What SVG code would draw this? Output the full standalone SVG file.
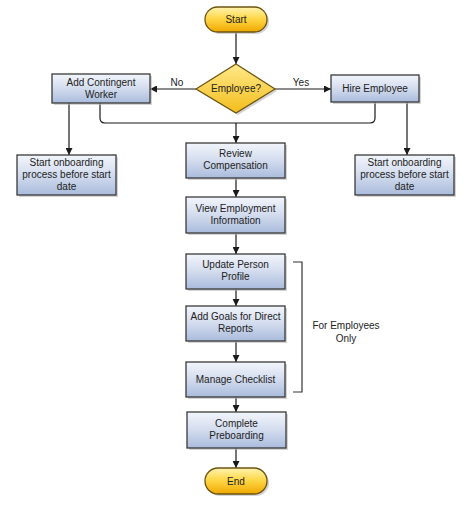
<svg xmlns="http://www.w3.org/2000/svg" width="474" height="513" viewBox="0 0 474 513">
<defs>
<linearGradient id="gBox" x1="0" y1="0" x2="0" y2="1">
<stop offset="0" stop-color="#f2f5fb"/>
<stop offset="0.5" stop-color="#d3dcee"/>
<stop offset="1" stop-color="#a9bbdc"/>
</linearGradient>
<linearGradient id="gYel" x1="0" y1="0" x2="0" y2="1">
<stop offset="0" stop-color="#fff3b0"/>
<stop offset="0.45" stop-color="#ffd84a"/>
<stop offset="1" stop-color="#f0a800"/>
</linearGradient>
<linearGradient id="gDia" x1="0" y1="0" x2="0" y2="1">
<stop offset="0" stop-color="#ffe98a"/>
<stop offset="1" stop-color="#f3bd1c"/>
</linearGradient>
<marker id="ah" viewBox="0 0 10 10" refX="10" refY="5" markerWidth="7" markerHeight="7" markerUnits="userSpaceOnUse" orient="auto">
<path d="M0,0 L10,5 L0,10 z" fill="#1a1a1a"/>
</marker>
</defs>
<style>
.box{fill:url(#gBox);stroke:#3a3a3a;stroke-width:1.3}
.term{fill:url(#gYel);stroke:#6b5410;stroke-width:1.3}
.sh{fill:#b8b8b8;opacity:0.6}
.t{font-family:"Liberation Sans",Arial,sans-serif;font-size:10px;fill:#222;text-anchor:middle}
.c{fill:none;stroke:#1a1a1a;stroke-width:1.2}
</style>
<rect width="474" height="513" fill="#ffffff"/>
<g id="connectors">
<line class="c" x1="236" y1="32" x2="236" y2="64" marker-end="url(#ah)"/>
<line class="c" x1="196" y1="89" x2="150" y2="89" marker-end="url(#ah)"/>
<line class="c" x1="275" y1="89" x2="331" y2="89" marker-end="url(#ah)"/>
<line class="c" x1="69" y1="103" x2="69" y2="155" marker-end="url(#ah)"/>
<line class="c" x1="407" y1="102" x2="407" y2="155" marker-end="url(#ah)"/>
<path class="c" d="M100,103 V118 Q100,123 105,123 H370 Q375,123 375,118 V102"/>
<line class="c" x1="236" y1="123" x2="236" y2="143" marker-end="url(#ah)"/>
<line class="c" x1="236" y1="178" x2="236" y2="197" marker-end="url(#ah)"/>
<line class="c" x1="236" y1="233" x2="236" y2="254" marker-end="url(#ah)"/>
<line class="c" x1="236" y1="289" x2="236" y2="306" marker-end="url(#ah)"/>
<line class="c" x1="236" y1="341" x2="236" y2="362" marker-end="url(#ah)"/>
<line class="c" x1="236" y1="397" x2="236" y2="412" marker-end="url(#ah)"/>
<line class="c" x1="236" y1="448" x2="236" y2="468" marker-end="url(#ah)"/>
<text class="t" x="177" y="86">No</text>
<text class="t" x="301" y="86">Yes</text>
</g>
<g id="start">
<rect class="sh" x="207" y="9" width="62" height="25" rx="12.5"/>
<rect class="term" x="205" y="7" width="62" height="25" rx="12.5"/>
<text class="t" x="236" y="23">Start</text>
</g>
<g id="employee">
<path class="sh" d="M238,66 L277,91 L238,115 L198,91 z"/>
<path d="M236,64 L275,89 L236,113 L196,89 z" fill="url(#gDia)" stroke="#6b5410" stroke-width="1.2"/>
<text class="t" x="236" y="92">Employee?</text>
</g>
<g id="addContingent">
<rect class="sh" x="54" y="76" width="98" height="29"/>
<rect class="box" x="52" y="74" width="98" height="29"/>
<text class="t" x="101" y="86">Add Contingent</text>
<text class="t" x="101" y="98">Worker</text>
</g>
<g id="hireEmployee">
<rect class="sh" x="333" y="77" width="88" height="27"/>
<rect class="box" x="331" y="75" width="88" height="27"/>
<text class="t" x="375" y="92">Hire Employee</text>
</g>
<g id="onboardLeft">
<rect class="sh" x="19" y="157" width="99" height="40"/>
<rect class="box" x="17" y="155" width="99" height="40"/>
<text class="t" x="66.5" y="166">Start onboarding</text>
<text class="t" x="66.5" y="178">process before start</text>
<text class="t" x="66.5" y="190">date</text>
</g>
<g id="onboardRight">
<rect class="sh" x="357" y="157" width="99" height="40"/>
<rect class="box" x="355" y="155" width="99" height="40"/>
<text class="t" x="404.5" y="166">Start onboarding</text>
<text class="t" x="404.5" y="178">process before start</text>
<text class="t" x="404.5" y="190">date</text>
</g>
<g id="review">
<rect class="sh" x="188" y="145" width="99" height="35"/>
<rect class="box" x="186" y="143" width="99" height="35"/>
<text class="t" x="235.5" y="157">Review</text>
<text class="t" x="235.5" y="169">Compensation</text>
</g>
<g id="viewEmployment">
<rect class="sh" x="188" y="199" width="99" height="36"/>
<rect class="box" x="186" y="197" width="99" height="36"/>
<text class="t" x="235.5" y="212">View Employment</text>
<text class="t" x="235.5" y="224">Information</text>
</g>
<g id="updateProfile">
<rect class="sh" x="188" y="256" width="99" height="35"/>
<rect class="box" x="186" y="254" width="99" height="35"/>
<text class="t" x="235.5" y="268">Update Person</text>
<text class="t" x="235.5" y="280">Profile</text>
</g>
<g id="addGoals">
<rect class="sh" x="188" y="308" width="99" height="35"/>
<rect class="box" x="186" y="306" width="99" height="35"/>
<text class="t" x="235.5" y="320">Add Goals for Direct</text>
<text class="t" x="235.5" y="332">Reports</text>
</g>
<g id="manageChecklist">
<rect class="sh" x="188" y="364" width="99" height="35"/>
<rect class="box" x="186" y="362" width="99" height="35"/>
<text class="t" x="235.5" y="383">Manage Checklist</text>
</g>
<g id="completePreboarding">
<rect class="sh" x="189" y="414" width="99" height="36"/>
<rect class="box" x="187" y="412" width="99" height="36"/>
<text class="t" x="236.5" y="427">Complete</text>
<text class="t" x="236.5" y="439">Preboarding</text>
</g>
<g id="end">
<rect class="sh" x="207" y="470" width="62" height="26" rx="13"/>
<rect class="term" x="205" y="468" width="62" height="26" rx="13"/>
<text class="t" x="236" y="485">End</text>
</g>
<g id="employeesOnly">
<path d="M293,262 H302 V392 H293" fill="none" stroke="#333" stroke-width="1.2"/>
<text class="t" x="346" y="329">For Employees</text>
<text class="t" x="346" y="342">Only</text>
</g>
</svg>
